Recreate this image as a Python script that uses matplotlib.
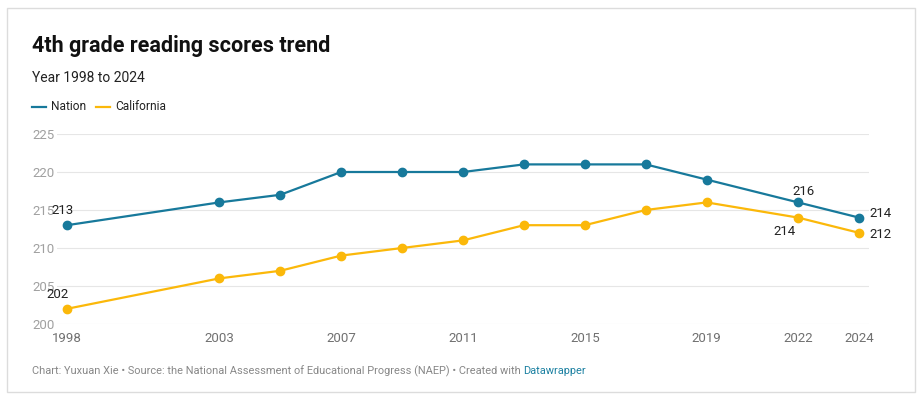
import matplotlib.pyplot as plt
from matplotlib.lines import Line2D
from matplotlib.patches import Rectangle

plt.rcParams['font.family'] = ['Roboto', 'DejaVu Sans']

# Datos del gráfico
anios = [1998, 2003, 2005, 2007, 2009, 2011, 2013, 2015, 2017, 2019, 2022, 2024]
nacion = [213, 216, 217, 220, 220, 220, 221, 221, 221, 219, 216, 214]
california = [202, 206, 207, 209, 210, 211, 213, 213, 215, 216, 214, 212]
ticks_x = [1998, 2003, 2007, 2011, 2015, 2019, 2022, 2024]
ticks_y = [200, 205, 210, 215, 220, 225]

azul = '#17799b'
amarillo = '#fbb80a'

W, H = 924, 398
fig = plt.figure(figsize=(W / 100, H / 100), dpi=100)

# Marco gris
fig.add_artist(Rectangle((7 / W, 1 - 392 / H), 908 / W, 384 / H,
                         transform=fig.transFigure, fill=False,
                         edgecolor='#dcdcdc', linewidth=1))

ppa = (859 - 67) / 26  # pixeles por año
ax = fig.add_axes([57 / W, 1 - 324 / H, (869 - 57) / W, (324 - 134) / H])
ax.set_xlim(1998 - 10 / ppa, 2024 + 10 / ppa)
ax.set_ylim(200, 225)

ax.plot(anios, nacion, color=azul, lw=1.6, marker='o', markersize=6, clip_on=False, zorder=3)
ax.plot(anios, california, color=amarillo, lw=1.6, marker='o', markersize=6, clip_on=False, zorder=3)

for s in ax.spines.values():
    s.set_visible(False)
ax.set_yticks(ticks_y)
ax.set_xticks(ticks_x)
ax.grid(axis='y', color='#e6e6e6', lw=0.8)
ax.set_axisbelow(True)
ax.tick_params(axis='y', length=0, pad=18, labelsize=9.5, labelcolor='#a0a0a0')
ax.tick_params(axis='x', length=0, pad=6, labelsize=9.5, labelcolor='#707070')
for lab in ax.get_yticklabels():
    lab.set_horizontalalignment('left')


# Etiquetas de valores (desplazamiento en pixeles)
def etiqueta(x, y, dx, dy, ha='center'):
    ax.annotate(str(y), (x, y), xytext=(dx * 0.72, dy * 0.72), textcoords='offset points',
                ha=ha, va='center', fontsize=9.5, color='#222222', zorder=4)


etiqueta(anios[0], nacion[0], -4, 15)
etiqueta(anios[0], california[0], -9, 14)
etiqueta(anios[-2], nacion[-2], 5, 11)
etiqueta(anios[-2], california[-2], -14, -14)
etiqueta(anios[-1], nacion[-1], 10, 4, ha='left')
etiqueta(anios[-1], california[-1], 10, -2, ha='left')

# Título, subtítulo y leyenda
fig.text(32 / W, 1 - 46 / H, '4th grade reading scores trend', fontsize=15.5, fontweight='bold', va='center', color='#111111')
fig.text(32 / W, 1 - 78 / H, 'Year 1998 to 2024', fontsize=10, va='center', color='#222222')
fig.add_artist(Line2D([32 / W, 46 / W], [1 - 107 / H] * 2, color=azul, lw=1.6, transform=fig.transFigure))
fig.text(51 / W, 1 - 106 / H, 'Nation', fontsize=8.6, va='center', color='#222222')
fig.add_artist(Line2D([96 / W, 110 / W], [1 - 107 / H] * 2, color=amarillo, lw=1.6, transform=fig.transFigure))
fig.text(115 / W, 1 - 106 / H, 'California', fontsize=8.6, va='center', color='#222222')

# Pie
pie = 'Chart: Yuxuan Xie • Source: the National Assessment of Educational Progress (NAEP) • Created with '
t = fig.text(32 / W, 1 - 371 / H, pie, fontsize=7.9, va='center', color='#888888')
fig.canvas.draw()
bb = t.get_window_extent()
fig.text(bb.x1 / W, 1 - 371 / H, 'Datawrapper', fontsize=7.9, va='center', color='#1d81a2')

fig.savefig('out.png', dpi=100)
